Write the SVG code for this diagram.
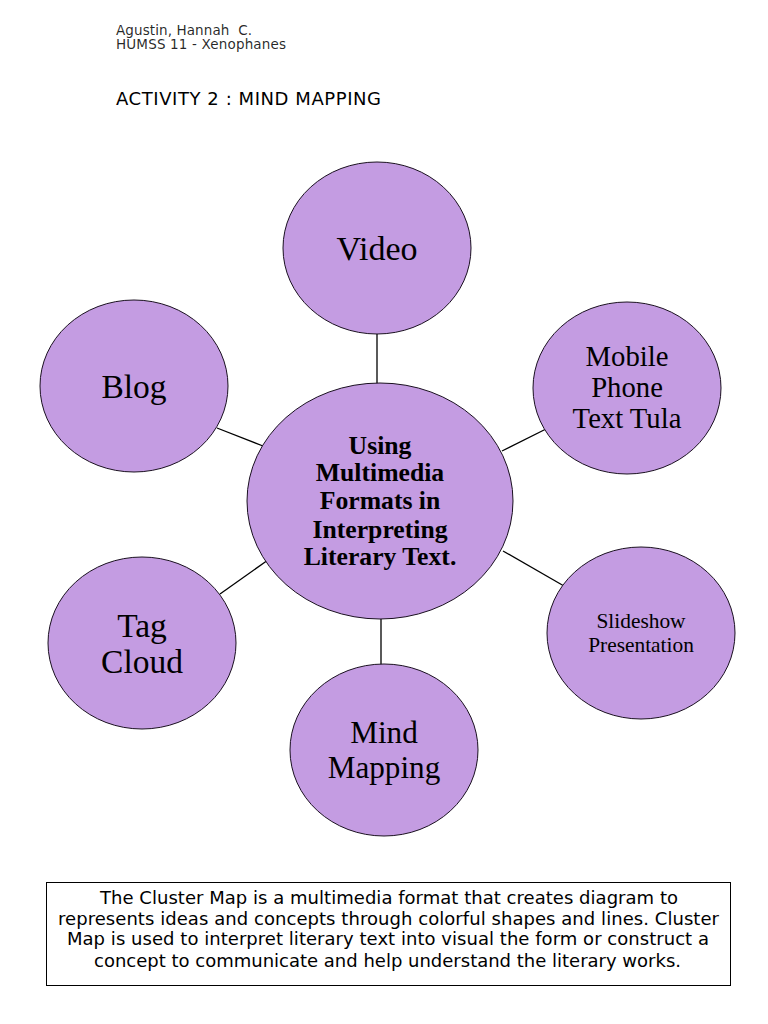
<svg xmlns="http://www.w3.org/2000/svg" width="768" height="1024" viewBox="0 0 768 1024">
<style>
.n{fill:#c49ce2;stroke:#1a1020;stroke-width:1}
.s{font-family:"Liberation Serif",serif;fill:#000;text-anchor:middle}
.v{font-family:"DejaVu Sans",Verdana,sans-serif;fill:#000;white-space:pre}
.c{stroke:#000;stroke-width:1.3;fill:none}
</style>
<rect width="768" height="1024" fill="#fff"/>
<text class="v" x="116" y="34.500" font-size="13.500" fill-opacity=".85" textLength="136" lengthAdjust="spacing">Agustin, Hannah  C.</text>
<text class="v" x="116" y="49" font-size="13.500" fill-opacity=".85" textLength="170" lengthAdjust="spacing">HUMSS 11 - Xenophanes</text>
<text class="v" x="116" y="104.500" font-size="18" textLength="265" lengthAdjust="spacing">ACTIVITY 2 : MIND MAPPING</text>
<g id="connectors">
<line class="c" x1="377" y1="333" x2="377" y2="384"/>
<line class="c" x1="217" y1="428" x2="263" y2="446"/>
<line class="c" x1="548" y1="428" x2="502" y2="451"/>
<line class="c" x1="220" y1="594" x2="268" y2="560"/>
<line class="c" x1="503" y1="551" x2="564" y2="586"/>
<line class="c" x1="381" y1="619" x2="381" y2="665"/>
</g>
<g id="video"><ellipse class="n" cx="377" cy="248" rx="94" ry="86"/><text class="s" x="377" y="260" font-size="34">Video</text></g>
<g id="blog"><ellipse class="n" cx="134" cy="386" rx="94" ry="86"/><text class="s" x="134" y="398" font-size="33.500">Blog</text></g>
<g id="mobile"><ellipse class="n" cx="627" cy="388" rx="94" ry="86"/><text class="s" font-size="28.700"><tspan x="627" y="366">Mobile</tspan><tspan x="627" y="397">Phone</tspan><tspan x="627" y="428">Text Tula</tspan></text></g>
<g id="center"><ellipse class="n" cx="380" cy="501" rx="133" ry="118"/><text class="s" font-size="25.700" font-weight="bold"><tspan x="380" y="454">Using</tspan><tspan x="380" y="481">Multimedia</tspan><tspan x="380" y="509">Formats in</tspan><tspan x="380" y="538">Interpreting</tspan><tspan x="380" y="565">Literary Text.</tspan></text></g>
<g id="tagcloud"><ellipse class="n" cx="142" cy="643" rx="94" ry="86"/><text class="s" font-size="33.500"><tspan x="142" y="637">Tag</tspan><tspan x="142" y="673">Cloud</tspan></text></g>
<g id="slideshow"><ellipse class="n" cx="641" cy="633" rx="94" ry="86"/><text class="s" font-size="21.400"><tspan x="641" y="628">Slideshow</tspan><tspan x="641" y="652">Presentation</tspan></text></g>
<g id="mindmapping"><ellipse class="n" cx="384" cy="750" rx="94" ry="86"/><text class="s" font-size="31.200"><tspan x="384" y="743">Mind</tspan><tspan x="384" y="778">Mapping</tspan></text></g>
<g id="note"><rect x="46.500" y="882.500" width="684" height="103" fill="#fff" stroke="#000" stroke-width="1"/>
<text class="v" font-size="18" x="100" y="904" textLength="578" lengthAdjust="spacing">The Cluster Map is a multimedia format that creates diagram to</text>
<text class="v" font-size="18" x="58" y="925" textLength="661" lengthAdjust="spacing">represents ideas and concepts through colorful shapes and lines. Cluster</text>
<text class="v" font-size="18" x="67" y="945" textLength="642" lengthAdjust="spacing">Map is used to interpret literary text into visual the form or construct a</text>
<text class="v" font-size="18" x="94" y="967" textLength="587" lengthAdjust="spacing">concept to communicate and help understand the literary works.</text></g>
</svg>
